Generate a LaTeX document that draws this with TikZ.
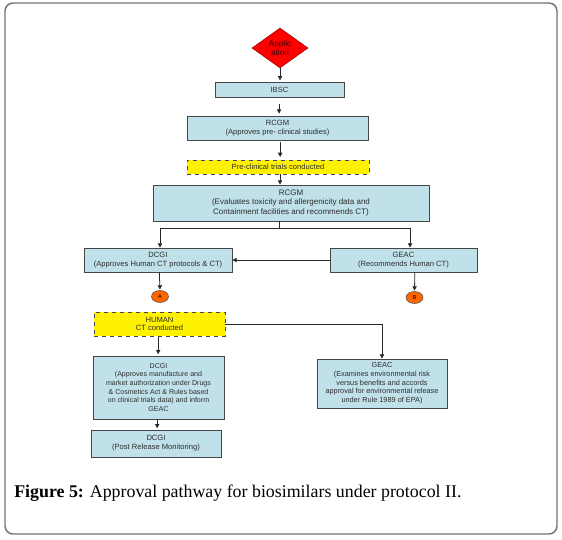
\documentclass[tikz,border=0pt]{standalone}
\usepackage{fontspec}
\setmainfont{Liberation Serif}
\newfontfamily\arialf{Liberation Sans}
\usetikzlibrary{shapes.geometric,arrows.meta}
\definecolor{boxblue}{RGB}{192,225,233}
\definecolor{boxedge}{RGB}{70,70,70}
\definecolor{txtc}{RGB}{45,45,45}
\definecolor{lnc}{RGB}{40,40,40}
\definecolor{orangec}{RGB}{255,102,0}
\def\PX{0.75pt}
\tikzset{
  x=0.75pt, y=-0.75pt,
  bbox/.style={draw=boxedge, line width=0.6pt, fill=boxblue, inner sep=0pt, align=center,
    text=txtc, font=\arialf\fontsize{5.7}{6.6}\selectfont},
  ybox/.style={draw=boxedge, dashed, line width=0.5pt, fill=yellow, inner sep=0pt, align=center,
    text=txtc, font=\arialf\fontsize{5.7}{6.6}\selectfont},
  arr/.style={draw=lnc, line width=0.6pt, -{Triangle[length=3.2pt,width=3.2pt]}},
  ln/.style={draw=lnc, line width=0.6pt},
  circ/.style={ellipse, draw=black!70, line width=0.4pt, fill=orangec, inner sep=0pt,
    minimum width=17*\PX, minimum height=12*\PX, font=\arialf\fontsize{4.2}{4.5}\selectfont},
}
\begin{document}
\begin{tikzpicture}
\useasboundingbox (0,0) rectangle (562,540);
% frame
\draw[draw=black!55, line width=1.1pt, rounded corners=6pt] (5,3) rectangle (557,534);

% nodes
\node[diamond, draw=red!60!black, line width=0.4pt, fill=red, inner sep=0pt,
  minimum width=56*\PX, minimum height=40*\PX, align=center, text=black!75!red,
  font=\arialf\fontsize{6.2}{6.3}\selectfont] (dia) at (280,48) {Applic\\ation};
\node[bbox, minimum width=129*\PX, minimum height=15*\PX] (ibsc) at (279.5,89.5) {IBSC};
\node[bbox, minimum width=181*\PX, minimum height=24*\PX] (rcgm1) at (277.5,128) {RCGM\\(Approves pre- clinical studies)};
\node[ybox, minimum width=182*\PX, minimum height=14*\PX] (pre) at (278,167) {Pre-clinical trials conducted};
\node[bbox, minimum width=276*\PX, minimum height=36*\PX, font=\arialf\fontsize{6}{7}\selectfont] (rcgm2) at (291,203)
  {RCGM\\(Evaluates toxicity and allergenicity data and\\Containment facilities and recommends CT)};
\node[bbox, minimum width=148*\PX, minimum height=24*\PX] (dcgi1) at (158,260) {DCGI\\(Approves Human CT protocols \& CT)};
\node[bbox, minimum width=147*\PX, minimum height=24*\PX] (geac1) at (403.5,260) {GEAC\\(Recommends Human CT)};
\node[circ] (ca) at (160,296.5) {A};
\node[circ] (cb) at (414.5,297.5) {B};
\node[ybox, minimum width=131*\PX, minimum height=24*\PX] (human) at (159.5,324) {HUMAN\\CT conducted};
\node[bbox, minimum width=131*\PX, minimum height=63*\PX, font=\arialf\fontsize{5.3}{6.5}\selectfont] (dcgi2) at (158.5,387.5)
  {DCGI\\(Approves manufacture and\\market authorization under Drugs\\\& Cosmetics Act \& Rules based\\on clinical trials data) and inform\\GEAC};
\node[bbox, minimum width=130*\PX, minimum height=27*\PX] (dcgi3) at (156,443.5) {DCGI\\(Post Release Monitoring)};
\node[bbox, minimum width=130*\PX, minimum height=49*\PX, font=\arialf\fontsize{5.5}{6.5}\selectfont] (geac2) at (382,383.5)
  {GEAC\\(Examines environmental risk\\versus benefits and accords\\approval for environmental release\\under Rule 1989 of EPA)};

% caption
\node[anchor=base west, inner sep=0pt, font=\fontsize{13.4}{15}\selectfont] (cap) at (14,497)
  {\textbf{Figure 5:} Approval pathway for biosimilars under protocol II.};

% connectors
\draw[arr, shorten >=1pt] (dia.south) -- (dia.south |- ibsc.north);
\draw[arr, shorten <=5pt, shorten >=1.5pt] ([xshift=-0.3pt]ibsc.south) -- ([xshift=-0.3pt]ibsc.south |- rcgm1.north);
\draw[arr, shorten <=1.5pt, shorten >=2pt] ([xshift=2pt]rcgm1.south) -- ([xshift=2pt]rcgm1.south |- pre.north);
\draw[arr] ([xshift=1.5pt]pre.south) -- ([xshift=1.5pt]pre.south |- rcgm2.north);
\coordinate (j) at ([xshift=-9pt, yshift=-5.25pt]rcgm2.south);
\draw[ln] (j |- rcgm2.south) -- (j);
\draw[arr] (j) -| ([xshift=1.5pt]dcgi1.north);
\draw[arr] (j) -| ([xshift=4.9pt]geac1.north);
\draw[arr] (geac1.west) -- (dcgi1.east);
\draw[arr, shorten >=0.5pt] ([xshift=1pt]dcgi1.south) -- (ca.north);
\draw[arr, shorten >=0.5pt] ([xshift=8.5pt]geac1.south) -- (cb.north);
\draw[arr] (human.east) -| (geac2.north);
\draw[arr, shorten >=1pt] ([xshift=-1pt]human.south) -- ([xshift=-1pt]human.south |- dcgi2.north);
\draw[arr, shorten >=1pt] ([xshift=-1pt]dcgi2.south) -- ([xshift=-1pt]dcgi2.south |- dcgi3.north);
\end{tikzpicture}
\end{document}
